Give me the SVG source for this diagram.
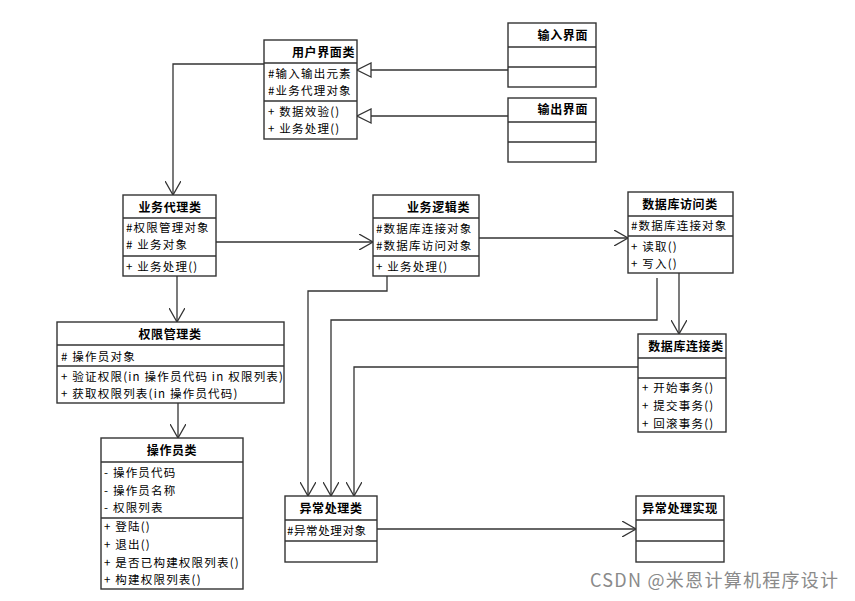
<svg xmlns="http://www.w3.org/2000/svg" width="855" height="601" viewBox="0 0 855 601">
<style>
.box{fill:#fff;stroke:#333;stroke-width:1.4}
.sep{stroke:#333;stroke-width:1.4}
.t{font-family:"Noto Sans CJK SC","Liberation Sans",sans-serif;font-size:11.5px;letter-spacing:1.2px;fill:#000}
.h{font-family:"Noto Sans CJK SC","Liberation Sans",sans-serif;font-size:12px;font-weight:bold;letter-spacing:0.6px;fill:#000}
.c{fill:none;stroke:#333;stroke-width:1.3}
.wm{font-family:"Noto Sans CJK SC","Liberation Sans",sans-serif;font-size:18px;fill:#8a8a8a}
</style>
<defs>
<marker id="arr" viewBox="0 0 14 16" refX="14" refY="8" markerWidth="14" markerHeight="16" markerUnits="userSpaceOnUse" orient="auto">
<path d="M0,0 L14,8 L0,16" fill="none" stroke="#333" stroke-width="1.3"/>
</marker>
<marker id="tri" viewBox="0 0 16 16" refX="15" refY="8" markerWidth="16" markerHeight="16" markerUnits="userSpaceOnUse" orient="auto">
<path d="M1,1 L15,8 L1,15 Z" fill="#fff" stroke="#333" stroke-width="1.3"/>
</marker>
<clipPath id="clipQ"><rect x="58" y="366" width="226" height="37"/></clipPath>
<clipPath id="clipO"><rect x="102" y="518" width="141" height="71"/></clipPath>
</defs>

<g id="connectors">
<path class="c" d="M264,64 H173 V195" marker-end="url(#arr)"/>
<path class="c" d="M508,70 H357" marker-end="url(#tri)"/>
<path class="c" d="M508,116 H357" marker-end="url(#tri)"/>
<path class="c" d="M216,242 H373" marker-end="url(#arr)"/>
<path class="c" d="M479,238 H628" marker-end="url(#arr)"/>
<path class="c" d="M177,276 V322" marker-end="url(#arr)"/>
<path class="c" d="M178,403 V438" marker-end="url(#arr)"/>
<path class="c" d="M679,273 V334" marker-end="url(#arr)"/>
<path class="c" d="M387,276 V291 H308 V496" marker-end="url(#arr)"/>
<path class="c" d="M657,278 V320 H331 V496" marker-end="url(#arr)"/>
<path class="c" d="M638,367 H354 V496" marker-end="url(#arr)"/>
<path class="c" d="M377,529 H636" marker-end="url(#arr)"/>
</g>

<g id="n-user-ui">
<rect class="box" x="264" y="40" width="93" height="99"/>
<line class="sep" x1="264" y1="63" x2="357" y2="63"/>
<line class="sep" x1="264" y1="101" x2="357" y2="101"/>
<text class="h" x="355" y="57" text-anchor="end">用户界面类</text>
<text class="t" x="268" y="78">#输入输出元素</text>
<text class="t" x="268" y="95">#业务代理对象</text>
<text class="t" x="268" y="116">+ 数据效验()</text>
<text class="t" x="268" y="133">+ 业务处理()</text>
</g>

<g id="n-input-ui">
<rect class="box" x="508" y="23" width="88" height="64"/>
<line class="sep" x1="508" y1="47" x2="596" y2="47"/>
<line class="sep" x1="508" y1="67" x2="596" y2="67"/>
<text class="h" x="588" y="40" text-anchor="end">输入界面</text>
</g>

<g id="n-output-ui">
<rect class="box" x="508" y="98" width="88" height="64"/>
<line class="sep" x1="508" y1="122" x2="596" y2="122"/>
<line class="sep" x1="508" y1="142" x2="596" y2="142"/>
<text class="h" x="588" y="114" text-anchor="end">输出界面</text>
</g>

<g id="n-biz-proxy">
<rect class="box" x="123" y="195" width="93" height="81"/>
<line class="sep" x1="123" y1="218" x2="216" y2="218"/>
<line class="sep" x1="123" y1="256" x2="216" y2="256"/>
<text class="h" x="170" y="212" text-anchor="middle">业务代理类</text>
<text class="t" x="126" y="232">#权限管理对象</text>
<text class="t" x="126" y="249"># 业务对象</text>
<text class="t" x="126" y="271">+ 业务处理()</text>
</g>

<g id="n-biz-logic">
<rect class="box" x="373" y="195" width="106" height="81"/>
<line class="sep" x1="373" y1="218" x2="479" y2="218"/>
<line class="sep" x1="373" y1="256" x2="479" y2="256"/>
<text class="h" x="470" y="212" text-anchor="end">业务逻辑类</text>
<text class="t" x="376" y="233">#数据库连接对象</text>
<text class="t" x="376" y="250">#数据库访问对象</text>
<text class="t" x="376" y="271">+ 业务处理()</text>
</g>

<g id="n-db-access">
<rect class="box" x="628" y="192" width="105" height="81"/>
<line class="sep" x1="628" y1="216" x2="733" y2="216"/>
<line class="sep" x1="628" y1="236" x2="733" y2="236"/>
<text class="h" x="680" y="209" text-anchor="middle">数据库访问类</text>
<text class="t" x="631" y="230">#数据库连接对象</text>
<text class="t" x="631" y="251">+ 读取()</text>
<text class="t" x="631" y="268">+ 写入()</text>
</g>

<g id="n-db-conn">
<rect class="box" x="638" y="334" width="88" height="98"/>
<line class="sep" x1="638" y1="358" x2="726" y2="358"/>
<line class="sep" x1="638" y1="378" x2="726" y2="378"/>
<text class="h" x="686" y="351" text-anchor="middle">数据库连接类</text>
<text class="t" x="642" y="392">+ 开始事务()</text>
<text class="t" x="642" y="410">+ 提交事务()</text>
<text class="t" x="642" y="428">+ 回滚事务()</text>
</g>

<g id="n-perm">
<rect class="box" x="57" y="322" width="227" height="81"/>
<line class="sep" x1="57" y1="345" x2="284" y2="345"/>
<line class="sep" x1="57" y1="366" x2="284" y2="366"/>
<text class="h" x="170" y="339" text-anchor="middle">权限管理类</text>
<text class="t" x="61" y="361"># 操作员对象</text>
<g clip-path="url(#clipQ)">
<text class="t" x="61" y="381">+ 验证权限(in 操作员代码 in 权限列表)</text>
<text class="t" x="61" y="398">+ 获取权限列表(in 操作员代码)</text>
</g>
</g>

<g id="n-operator">
<rect class="box" x="101" y="438" width="142" height="151"/>
<line class="sep" x1="101" y1="462" x2="243" y2="462"/>
<line class="sep" x1="101" y1="518" x2="243" y2="518"/>
<text class="h" x="172" y="455" text-anchor="middle">操作员类</text>
<text class="t" x="104" y="477">- 操作员代码</text>
<text class="t" x="104" y="495">- 操作员名称</text>
<text class="t" x="104" y="512">- 权限列表</text>
<g clip-path="url(#clipO)">
<text class="t" x="104" y="531">+ 登陆()</text>
<text class="t" x="104" y="549">+ 退出()</text>
<text class="t" x="104" y="567">+  是否已构建权限列表()</text>
<text class="t" x="104" y="584">+ 构建权限列表()</text>
</g>
</g>

<g id="n-exception">
<rect class="box" x="285" y="496" width="92" height="66"/>
<line class="sep" x1="285" y1="520" x2="377" y2="520"/>
<line class="sep" x1="285" y1="541" x2="377" y2="541"/>
<text class="h" x="331" y="513" text-anchor="middle">异常处理类</text>
<text class="t" x="287" y="535" style="letter-spacing:0.6px">#异常处理对象</text>
</g>

<g id="n-exception-impl">
<rect class="box" x="636" y="496" width="88" height="66"/>
<line class="sep" x1="636" y1="520" x2="724" y2="520"/>
<line class="sep" x1="636" y1="541" x2="724" y2="541"/>
<text class="h" x="680" y="513" text-anchor="middle">异常处理实现</text>
</g>

<text class="wm" x="590" y="587" textLength="248" lengthAdjust="spacing">CSDN @米恩计算机程序设计</text>
</svg>
